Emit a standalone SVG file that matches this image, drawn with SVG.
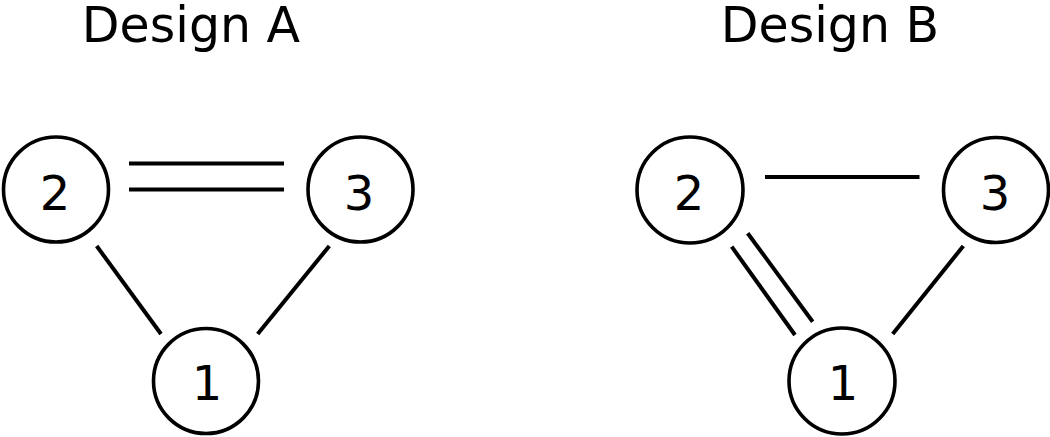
<svg xmlns="http://www.w3.org/2000/svg" width="1050" height="437" viewBox="0 0 1050 437">
<style>
.node{fill:#fff;stroke:#000;stroke-width:3.6}
.lbl{font-family:"DejaVu Sans",Verdana,sans-serif;font-size:48px;fill:#000;text-anchor:middle}
.title{font-family:"DejaVu Sans",Verdana,sans-serif;font-size:49px;fill:#000;text-anchor:middle}
.edge{stroke:#000;stroke-width:4;fill:none}
</style>
<rect width="1050" height="437" fill="#fff"/>
<text class="title" x="191" y="42">Design A</text>
<text class="title" x="830" y="42">Design B</text>
<g id="connectors">
<line class="edge" x1="129" y1="163.5" x2="284" y2="163.5"/>
<line class="edge" x1="129" y1="189.5" x2="284" y2="189.5"/>
<line class="edge" x1="96.7" y1="246" x2="161" y2="334"/>
<line class="edge" x1="329.3" y1="246" x2="257.7" y2="334"/>
<line class="edge" x1="765" y1="177" x2="919.5" y2="177"/>
<line class="edge" x1="731.7" y1="246.7" x2="795" y2="335"/>
<line class="edge" x1="747.7" y1="233.3" x2="812.7" y2="321.7"/>
<line class="edge" x1="963.3" y1="246" x2="892.7" y2="334"/>
</g>
<g id="a2"><circle class="node" cx="56" cy="189.5" r="52.5"/><text class="lbl" x="55" y="210">2</text></g>
<g id="a3"><circle class="node" cx="360.5" cy="189.5" r="52.5"/><text class="lbl" x="359" y="210">3</text></g>
<g id="a1"><circle class="node" cx="206" cy="381" r="52.5"/><text class="lbl" x="207" y="400">1</text></g>
<g id="b2"><circle class="node" cx="690" cy="190" r="53"/><text class="lbl" x="689" y="210">2</text></g>
<g id="b3"><circle class="node" cx="996" cy="190" r="52.5"/><text class="lbl" x="995" y="210">3</text></g>
<g id="b1"><circle class="node" cx="842" cy="381" r="53"/><text class="lbl" x="843" y="400">1</text></g>
</svg>
